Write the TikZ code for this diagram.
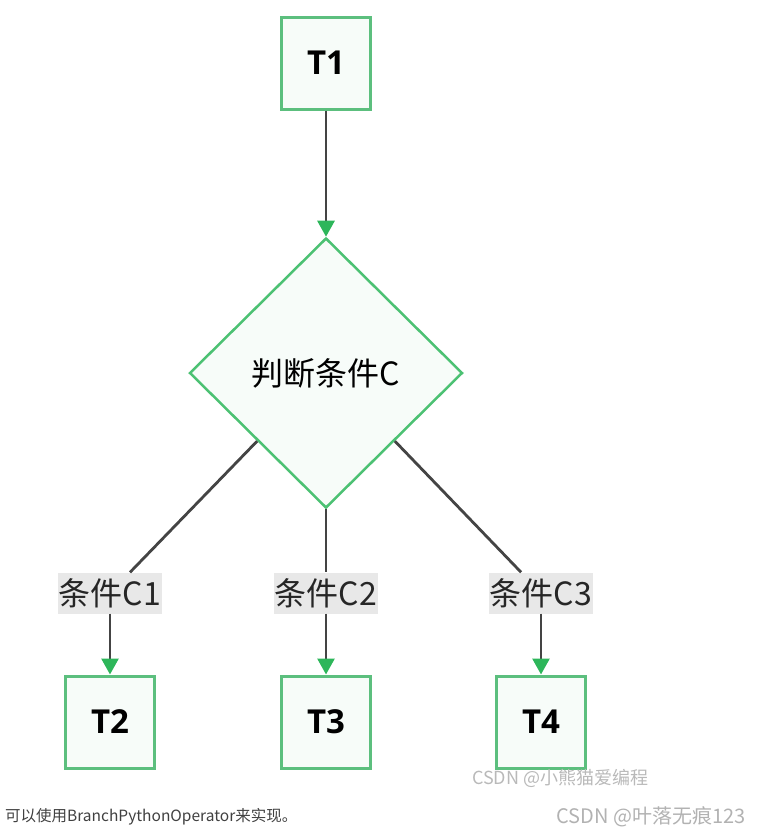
\documentclass[tikz,border=0pt]{standalone}
\usepackage{fontspec}
\setmainfont{Noto Sans CJK SC}
\newfontfamily\cjk{Noto Sans CJK SC}
\newfontfamily\tfont{Open Sans}
\usetikzlibrary{shapes.geometric,arrows.meta}
\definecolor{boxgreen}{HTML}{5CBF7E}
\definecolor{tipgreen}{HTML}{2DB65A}
\definecolor{boxfill}{HTML}{F7FCF9}
\definecolor{linegray}{HTML}{444444}
\definecolor{lblbg}{HTML}{E8E8E8}
\tikzset{
  taskbox/.style={draw=boxgreen, line width=3pt, fill=boxfill, minimum width=89pt, minimum height=92pt, inner sep=0pt, font=\tfont\bfseries\fontsize{33}{33}\selectfont, text=black},
  decision/.style={diamond, draw=tipgreen!85!white, line width=2.5pt, fill=boxfill, minimum width=273pt, minimum height=270pt, inner sep=0pt, font=\cjk\fontsize{32}{32}\selectfont},
  condlbl/.style={fill=lblbg, inner xsep=1pt, minimum height=41pt, font=\cjk\fontsize{32}{32}\selectfont, text=black!85},
  conn/.style={draw=linegray, line width=2.8pt, -{Triangle[length=16pt, width=17pt, color=tipgreen, fill=tipgreen]}},
  plain/.style={draw=linegray, line width=2.8pt}
}
\begin{document}
\begin{tikzpicture}[x=1pt, y=-1pt]
\useasboundingbox (0,0) rectangle (760,836);
\node[taskbox] (t1) at (326,63) {T1};
\node[decision] (d) at (326,373) {判断条件C};
\node[condlbl] (c1) at (110,593) {条件C1};
\node[condlbl] (c2) at (326,593) {条件C2};
\node[condlbl] (c3) at (541,593) {条件C3};
\node[taskbox] (t2) at (110,722) {T2};
\node[taskbox] (t3) at (326,722) {T3};
\node[taskbox] (t4) at (541,722) {T4};
\draw[conn] (t1) -- (d);
\draw[plain] (d.south west) -- (c1);
\draw[plain] (d.south) -- (c2);
\draw[plain] (d.south east) -- (c3);
\draw[conn] (c1) -- (t2);
\draw[conn] (c2) -- (t3);
\draw[conn] (c3) -- (t4);
\node[anchor=west, text=gray!55, font=\cjk\fontsize{18}{18}\selectfont, inner sep=0pt] (wm) at (472,778) {CSDN @小熊猫爱编程};
\node[anchor=west, text=black!75, font=\cjk\fontsize{15.5}{15.5}\selectfont, inner sep=0pt] (cap) at (5,817) {可以使用BranchPythonOperator来实现。};
\node[anchor=east, text=gray!60, font=\cjk\fontsize{20}{20}\selectfont, inner sep=0pt] (csdn) at (746,817) {CSDN @叶落无痕123};
\end{tikzpicture}
\end{document}
